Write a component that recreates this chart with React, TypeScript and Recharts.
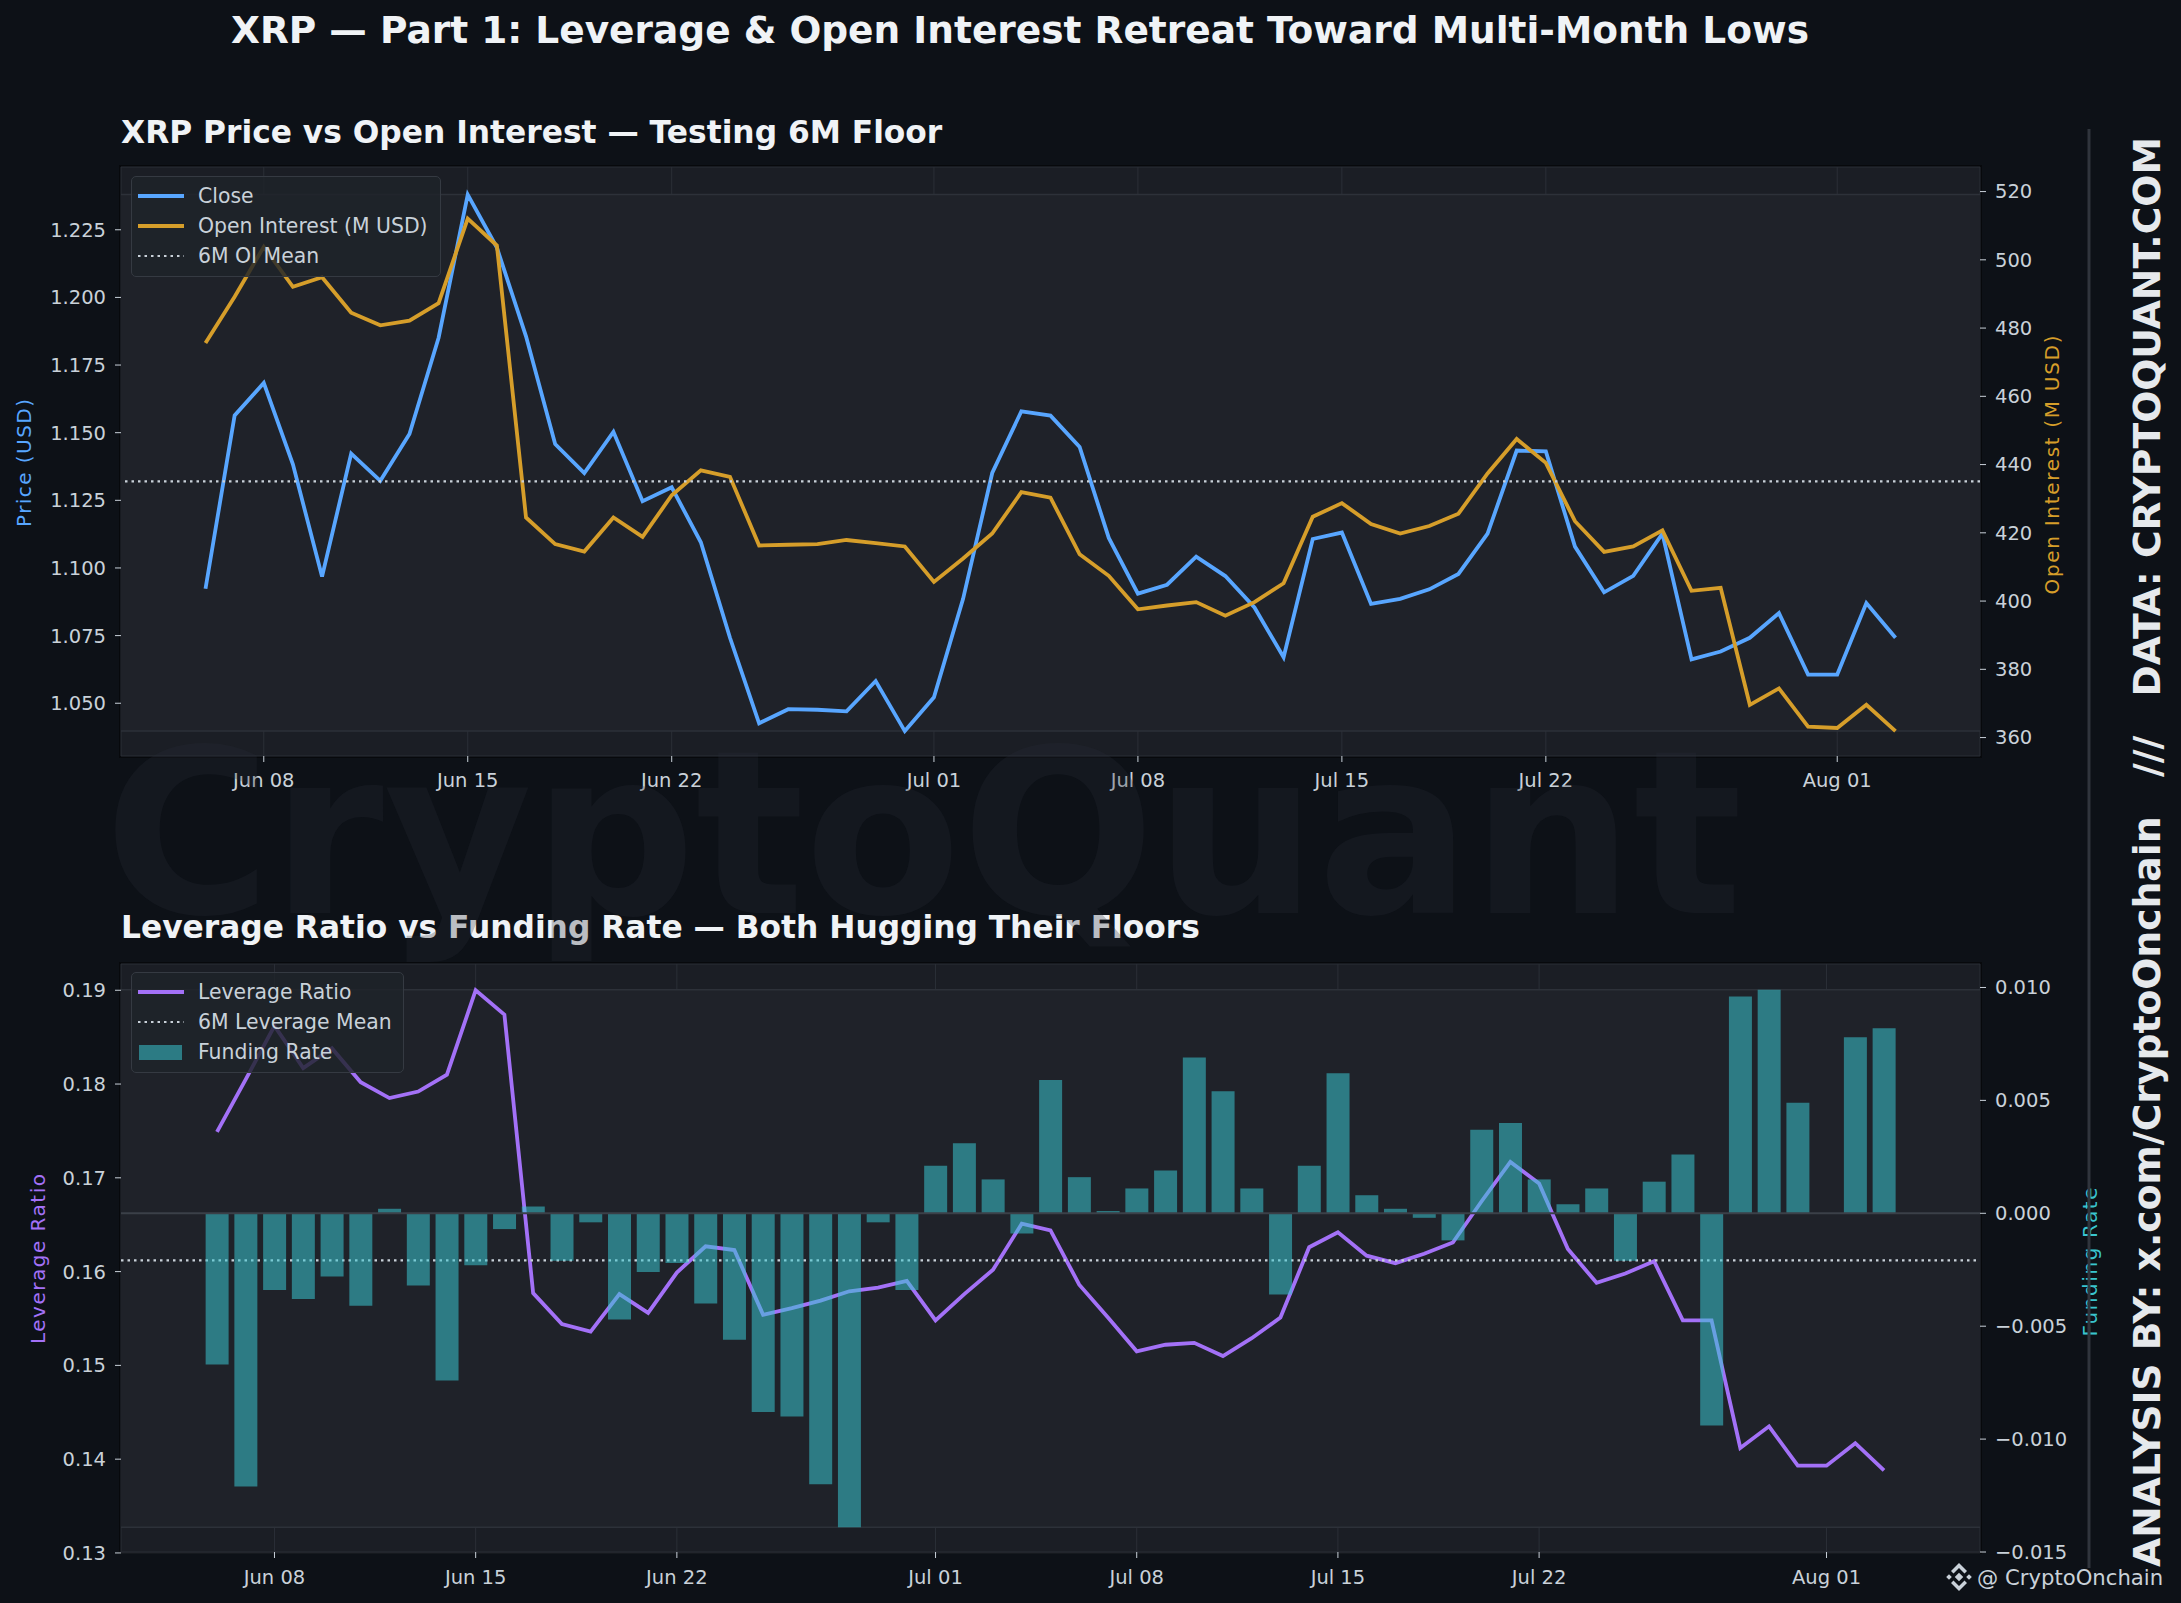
import React from 'react';
import {
  ComposedChart,
  Line,
  Bar,
  XAxis,
  YAxis,
  CartesianGrid,
  ReferenceLine,
  ReferenceArea,
} from 'recharts';

document.body.style.margin = '0';
document.body.style.background = '#0d1117';

const FONT = "'DejaVu Sans', sans-serif";
const TEXT = '#c9d1d9';

// ---- data ----
const dates = [
  '2025-06-06', '2025-06-07', '2025-06-08', '2025-06-09', '2025-06-10', '2025-06-11', '2025-06-12',
  '2025-06-13', '2025-06-14', '2025-06-15', '2025-06-16', '2025-06-17', '2025-06-18', '2025-06-19',
  '2025-06-20', '2025-06-21', '2025-06-22', '2025-06-23', '2025-06-24', '2025-06-25', '2025-06-26',
  '2025-06-27', '2025-06-28', '2025-06-29', '2025-06-30', '2025-07-01', '2025-07-02', '2025-07-03',
  '2025-07-04', '2025-07-05', '2025-07-06', '2025-07-07', '2025-07-08', '2025-07-09', '2025-07-10',
  '2025-07-11', '2025-07-12', '2025-07-13', '2025-07-14', '2025-07-15', '2025-07-16', '2025-07-17',
  '2025-07-18', '2025-07-19', '2025-07-20', '2025-07-21', '2025-07-22', '2025-07-23', '2025-07-24',
  '2025-07-25', '2025-07-26', '2025-07-27', '2025-07-28', '2025-07-29', '2025-07-30', '2025-07-31',
  '2025-08-01', '2025-08-02', '2025-08-03',
];

const closePrice = [
  1.0923, 1.1564, 1.1684, 1.1383, 1.0968, 1.1423, 1.1322, 1.1495, 1.1851, 1.2380,
  1.2184, 1.1856, 1.1458, 1.1351, 1.1503, 1.1247, 1.1298, 1.1095, 1.0742, 1.0426,
  1.0478, 1.0476, 1.0470, 1.0582, 1.0397, 1.0522, 1.0886, 1.1351, 1.1579, 1.1563,
  1.1447, 1.1111, 1.0905, 1.0938, 1.1042, 1.0970, 1.0854, 1.0670, 1.1107, 1.1131,
  1.0867, 1.0886, 1.0921, 1.0978, 1.1127, 1.1434, 1.1431, 1.1079, 1.0910, 1.0971,
  1.1127, 1.0662, 1.0691, 1.0742, 1.0833, 1.0606, 1.0606, 1.0870, 1.0742,
];

const openInterest = [
  475.6, 489.2, 503.8, 492.1, 494.9, 484.5, 480.8, 482.2, 487.3, 512.1,
  504.2, 424.5, 416.7, 414.5, 424.5, 418.8, 431.0, 438.3, 436.4, 416.3,
  416.5, 416.7, 417.9, 417.0, 416.0, 405.6, 412.5, 419.8, 431.9, 430.3,
  413.7, 407.4, 397.6, 398.7, 399.7, 395.7, 399.7, 405.2, 424.7, 428.7,
  422.6, 419.8, 422.0, 425.6, 437.4, 447.5, 440.5, 423.4, 414.4, 416.0,
  420.7, 403.0, 403.9, 369.6, 374.4, 363.2, 362.8, 369.6, 361.9,
];

const leverageRatio = [
  0.1749, 0.1805, 0.1862, 0.1817, 0.1838, 0.1802, 0.1785, 0.1792, 0.1810, 0.1900,
  0.1874, 0.1577, 0.1544, 0.1536, 0.1576, 0.1556, 0.1599, 0.1627, 0.1623, 0.1554,
  0.1561, 0.1569, 0.1579, 0.1583, 0.1590, 0.1548, 0.1576, 0.1602, 0.1651, 0.1644,
  0.1586, 0.1551, 0.1515, 0.1522, 0.1524, 0.1510, 0.1529, 0.1551, 0.1626, 0.1642,
  0.1617, 0.1609, 0.1619, 0.1631, 0.1675, 0.1717, 0.1694, 0.1624, 0.1588, 0.1598,
  0.1611, 0.1548, 0.1548, 0.1412, 0.1435, 0.1393, 0.1393, 0.1417, 0.1388,
];

const fundingRate = [
  -0.0067, -0.0121, -0.0034, -0.0038, -0.0028, -0.0041, 0.0002, -0.0032, -0.0074, -0.0023,
  -0.0007, 0.0003, -0.0021, -0.0004, -0.0047, -0.0026, -0.0022, -0.0040, -0.0056, -0.0088,
  -0.0090, -0.0120, -0.0139, -0.0004, -0.0034, 0.0021, 0.0031, 0.0015, -0.0009, 0.0059,
  0.0016, 0.0001, 0.0011, 0.0019, 0.0069, 0.0054, 0.0011, -0.0036, 0.0021, 0.0062,
  0.0008, 0.0002, -0.0002, -0.0012, 0.0037, 0.0040, 0.0015, 0.0004, 0.0011, -0.0021,
  0.0014, 0.0026, -0.0094, 0.0096, 0.0099, 0.0049, 0, 0.0078, 0.0082,
];

const oiMean6M = 435.1;
const leverageMean6M = 0.1612;

const dateTicks = ['2025-06-08', '2025-06-15', '2025-06-22', '2025-07-01', '2025-07-08', '2025-07-15', '2025-07-22', '2025-08-01'];
const priceTicks = [1.05, 1.075, 1.1, 1.125, 1.15, 1.175, 1.2, 1.225];
const oiTicks = [360, 380, 400, 420, 440, 460, 480, 500, 520];
const leverageTicks = [0.13, 0.14, 0.15, 0.16, 0.17, 0.18, 0.19];
const fundingTicks = [-0.015, -0.01, -0.005, 0, 0.005, 0.01];

const MONTHS = ['Jan', 'Feb', 'Mar', 'Apr', 'May', 'Jun', 'Jul', 'Aug', 'Sep', 'Oct', 'Nov', 'Dec'];
const DAY = 86400000;
const t0 = Date.parse(dates[0]);
const dayOf = (d: string) => (Date.parse(d) - t0) / DAY;

const rows = dates.map((d, i) => ({
  x: dayOf(d),
  close: closePrice[i],
  oi: openInterest[i],
  lev: leverageRatio[i],
  fund: fundingRate[i],
}));

const xTickValues = dateTicks.map(dayOf);
function fmtDate(v: number) {
  const dt = new Date(t0 + v * DAY);
  return `${MONTHS[dt.getUTCMonth()]} ${String(dt.getUTCDate()).padStart(2, '0')}`;
}

const span = rows[rows.length - 1].x - rows[0].x;
const topDomain = [rows[0].x - span * 0.05, rows[rows.length - 1].x + span * 0.05];
const barSpan = span + 0.8;
const botDomain = [rows[0].x - 0.4 - barSpan * 0.05, rows[rows.length - 1].x + 0.4 + barSpan * 0.05];

const priceDomain = [1.0305, 1.2482];
const oiDomain = [354.6, 527.2];
const levDomain = [0.1301, 0.1928];
const fundDomain = [-0.015, 0.01104];

// plot rectangles (figure pixels)
const PL = 121;
const PR = 1980;
const TOP1 = 167;
const BOT1 = 756;
const TOP2 = 964;
const BOT2 = 1552;
const W = 2181;
const H = 1603;

const PLOT_BG = '#1b1e25';
const BAND_BG = '#1f2229';
const GRID = '#2b2f37';

const tickStyle = { fill: TEXT, fontSize: 19.5, fontFamily: FONT };
const barSize = ((PR - PL) / (botDomain[1] - botDomain[0])) * 0.8;

function PlotBg({ top, bottom }: { top: number; bottom: number }) {
  return (
    <div
      style={{
        position: 'absolute',
        left: PL - 2,
        top: top - 2,
        width: PR - PL,
        height: bottom - top,
        background: PLOT_BG,
        border: '2px solid #07090c',
      }}
    />
  );
}

function LegendBox({ left, top, width, items }: { left: number; top: number; width: number; items: { label: string; kind: string; color: string }[] }) {
  return (
    <div
      style={{
        position: 'absolute',
        left,
        top,
        width,
        padding: '4px 0 5px 0',
        background: 'rgba(31,35,42,0.82)',
        border: '1.5px solid #353a42',
        borderRadius: 5,
        fontFamily: FONT,
        fontSize: 20.4,
        color: TEXT,
      }}
    >
      {items.map((it) => (
        <div key={it.label} style={{ display: 'flex', alignItems: 'center', height: 30 }}>
          <svg width={66} height={30} style={{ flex: 'none' }}>
            {it.kind === 'line' && <line x1={6} x2={52} y1={15} y2={15} stroke={it.color} strokeWidth={4} />}
            {it.kind === 'dot' && <line x1={6} x2={52} y1={15} y2={15} stroke={it.color} strokeWidth={2.2} strokeDasharray="2.5 4" />}
            {it.kind === 'bar' && <rect x={7} y={8} width={43} height={15} fill="#39c5cf" fillOpacity={0.55} />}
          </svg>
          <span>{it.label}</span>
        </div>
      ))}
    </div>
  );
}

function fmtFunding(v: number) {
  const s = Math.abs(v).toFixed(3);
  return v < 0 ? `\u2212${s}` : s;
}

export default function App() {
  const closeMin = Math.min(...closePrice);
  const closeMax = Math.max(...closePrice);
  const fundMin = Math.min(...fundingRate);
  const fundMax = Math.max(...fundingRate);

  return (
    <div style={{ position: 'relative', width: W, height: H, background: '#0d1117', overflow: 'hidden', fontFamily: FONT }}>
      <PlotBg top={TOP1} bottom={BOT1} />
      <PlotBg top={TOP2} bottom={BOT2} />

      {/* top panel: price vs open interest */}
      <div style={{ position: 'absolute', left: 0, top: 0 }}>
        <ComposedChart width={W} height={800} data={rows} margin={{ top: TOP1, left: PL - 100, right: W - PR - 100, bottom: 800 - BOT1 - 40 }}>
          <XAxis
            dataKey="x"
            type="number"
            domain={topDomain}
            ticks={xTickValues}
            tickFormatter={fmtDate}
            allowDataOverflow
            height={40}
            tick={tickStyle}
            tickSize={6}
            tickMargin={11}
            axisLine={false}
            tickLine={{ stroke: TEXT }}
          />
          <YAxis
            yAxisId="price"
            orientation="left"
            width={100}
            domain={priceDomain}
            ticks={priceTicks}
            allowDataOverflow
            tickFormatter={(v: number) => v.toFixed(3)}
            tick={tickStyle}
            tickSize={6}
            tickMargin={9}
            axisLine={false}
            tickLine={{ stroke: TEXT }}
          />
          <YAxis
            yAxisId="oi"
            orientation="right"
            width={100}
            domain={oiDomain}
            ticks={oiTicks}
            allowDataOverflow
            tick={tickStyle}
            tickSize={6}
            tickMargin={9}
            axisLine={false}
            tickLine={{ stroke: TEXT }}
          />
          <ReferenceArea yAxisId="price" y1={closeMin} y2={closeMax} fill={BAND_BG} fillOpacity={1} stroke="none" ifOverflow="hidden" />
          <ReferenceLine yAxisId="price" y={closeMin} stroke="#2d3139" strokeWidth={1.5} />
          <ReferenceLine yAxisId="price" y={closeMax} stroke="#2d3139" strokeWidth={1.5} />
          <CartesianGrid yAxisId="price" stroke={GRID} strokeWidth={1} />
          <Line yAxisId="price" dataKey="close" type="linear" stroke="#58a6ff" strokeWidth={3.8} dot={false} isAnimationActive={false} />
          <Line yAxisId="oi" dataKey="oi" type="linear" stroke="#d69e2a" strokeWidth={3.8} dot={false} isAnimationActive={false} />
          <ReferenceLine yAxisId="oi" y={oiMean6M} stroke="#c9d1d9" strokeWidth={2.2} strokeDasharray="2.5 4" />
        </ComposedChart>
      </div>

      {/* bottom panel, layer 1: leverage line with axes */}
      <div style={{ position: 'absolute', left: 0, top: 0 }}>
        <ComposedChart width={W} height={H} data={rows} margin={{ top: TOP2, left: PL - 100, right: W - PR - 100, bottom: H - BOT2 - 40 }}>
          <XAxis
            dataKey="x"
            type="number"
            domain={botDomain}
            ticks={xTickValues}
            tickFormatter={fmtDate}
            allowDataOverflow
            height={40}
            tick={tickStyle}
            tickSize={6}
            tickMargin={12}
            axisLine={false}
            tickLine={{ stroke: TEXT }}
          />
          <YAxis
            yAxisId="lev"
            orientation="left"
            width={100}
            domain={levDomain}
            ticks={leverageTicks}
            allowDataOverflow
            tickFormatter={(v: number) => v.toFixed(2)}
            tick={tickStyle}
            tickSize={6}
            tickMargin={9}
            axisLine={false}
            tickLine={{ stroke: TEXT }}
          />
          <YAxis
            yAxisId="fund"
            orientation="right"
            width={100}
            domain={fundDomain}
            ticks={fundingTicks}
            allowDataOverflow
            tickFormatter={fmtFunding}
            tick={tickStyle}
            tickSize={6}
            tickMargin={9}
            axisLine={false}
            tickLine={{ stroke: TEXT }}
          />
          <ReferenceArea yAxisId="fund" y1={fundMin} y2={fundMax} fill={BAND_BG} fillOpacity={1} stroke="none" ifOverflow="hidden" />
          <ReferenceLine yAxisId="fund" y={fundMin} stroke="#2d3139" strokeWidth={1.5} />
          <ReferenceLine yAxisId="fund" y={fundMax} stroke="#2d3139" strokeWidth={1.5} />
          <CartesianGrid yAxisId="lev" stroke={GRID} strokeWidth={1} />
          <Line yAxisId="lev" dataKey="lev" type="linear" stroke="#a371f7" strokeWidth={3.8} dot={false} isAnimationActive={false} />
          <ReferenceLine yAxisId="lev" y={leverageMean6M} stroke="#c9d1d9" strokeWidth={2.2} strokeDasharray="2.5 4" />
        </ComposedChart>
      </div>

      {/* bottom panel, layer 2: funding bars drawn over the line (twin axis) */}
      <div style={{ position: 'absolute', left: 0, top: 0 }}>
        <ComposedChart width={W} height={H} data={rows} margin={{ top: TOP2, left: PL, right: W - PR, bottom: H - BOT2 }}>
          <XAxis dataKey="x" type="number" domain={botDomain} allowDataOverflow hide />
          <YAxis yAxisId="fund" domain={fundDomain} allowDataOverflow hide />
          <ReferenceLine yAxisId="fund" y={0} stroke="#3b4048" strokeWidth={2} />
          <Bar yAxisId="fund" dataKey="fund" fill="#39c5cf" fillOpacity={0.55} barSize={barSize} isAnimationActive={false} />
        </ComposedChart>
      </div>

      <LegendBox
        left={131}
        top={176}
        width={308}
        items={[
          { label: 'Close', kind: 'line', color: '#58a6ff' },
          { label: 'Open Interest (M USD)', kind: 'line', color: '#d69e2a' },
          { label: '6M OI Mean', kind: 'dot', color: '#c9d1d9' },
        ]}
      />
      <LegendBox
        left={131}
        top={972}
        width={271}
        items={[
          { label: 'Leverage Ratio', kind: 'line', color: '#a371f7' },
          { label: '6M Leverage Mean', kind: 'dot', color: '#c9d1d9' },
          { label: 'Funding Rate', kind: 'bar', color: '#39c5cf' },
        ]}
      />

      {/* titles, axis labels, watermark, credits */}
      <svg width={W} height={H} style={{ position: 'absolute', left: 0, top: 0, pointerEvents: 'none' }} fontFamily={FONT}>
        <text x={1020} y={43} textAnchor="middle" fontSize={37.5} fontWeight="bold" fill="#f0f3f6">
          XRP — Part 1: Leverage &amp; Open Interest Retreat Toward Multi-Month Lows
        </text>
        <text x={121} y={143} fontSize={31.3} fontWeight="bold" fill="#f0f3f6">
          XRP Price vs Open Interest — Testing 6M Floor
        </text>
        <text x={121} y={938} fontSize={31.3} fontWeight="bold" fill="#f0f3f6">
          Leverage Ratio vs Funding Rate — Both Hugging Their Floors
        </text>

        <text transform="translate(31 463) rotate(-90)" textAnchor="middle" fontSize={20} fill="#58a6ff" textLength={128} lengthAdjust="spacing">
          Price (USD)
        </text>
        <text transform="translate(2059 465) rotate(-90)" textAnchor="middle" fontSize={20} fill="#d69e2a" textLength={259} lengthAdjust="spacing">
          Open Interest (M USD)
        </text>
        <text transform="translate(45 1259) rotate(-90)" textAnchor="middle" fontSize={20} fill="#a371f7" textLength={170} lengthAdjust="spacing">
          Leverage Ratio
        </text>
        <text transform="translate(2097 1262) rotate(-90)" textAnchor="middle" fontSize={20} fill="#39c5cf" textLength={149} lengthAdjust="spacing">
          Funding Rate
        </text>

        <line x1={2089} x2={2089} y1={129} y2={1568} stroke="#30353d" strokeWidth={3} />

        <text x={104} y={913} fontSize={228} fontWeight="bold" fill="rgb(42,46,54)" fillOpacity={0.27}>
          CryptoQuant
        </text>

        <text
          transform="translate(2147 852) rotate(-90)"
          textAnchor="middle"
          dominantBaseline="central"
          fontSize={37.7}
          fontWeight="bold"
          fill="#e6e9ec"
          style={{ whiteSpace: 'pre' }}
        >
          {'ANALYSIS BY: x.com/CryptoOnchain   ///   DATA: CRYPTOQUANT.COM'}
        </text>

        <g transform="translate(1959 1577)" fill="#c9d1d9">
          <rect x={-3} y={-3} width={6} height={6} transform="rotate(45)" />
          <rect x={-12} y={-2} width={4} height={4} transform="rotate(45 -10 0)" />
          <rect x={8} y={-2} width={4} height={4} transform="rotate(45 10 0)" />
          <path d="M0 -14 L8 -6 L5.5 -3.5 L0 -9 L-5.5 -3.5 L-8 -6 Z" />
          <path d="M0 14 L8 6 L5.5 3.5 L0 9 L-5.5 3.5 L-8 6 Z" />
        </g>
        <text x={1977} y={1585} fontSize={21.2} fill="#c9d1d9">
          @ CryptoOnchain
        </text>
      </svg>
    </div>
  );
}
